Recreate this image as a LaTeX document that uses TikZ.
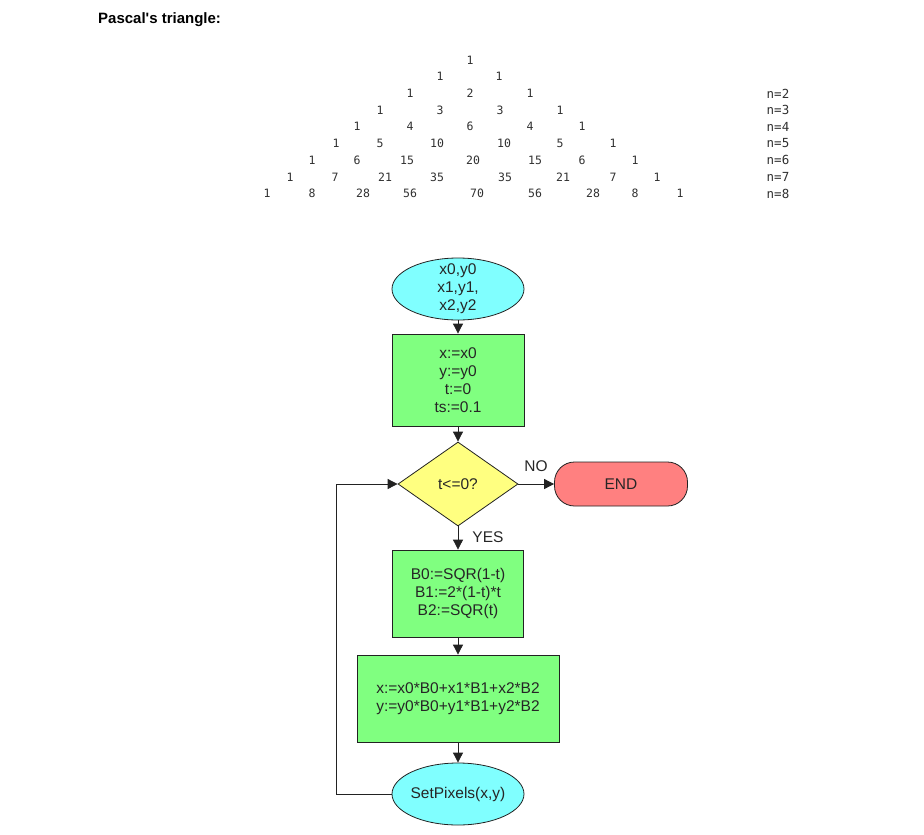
\documentclass[tikz,border=0pt]{standalone}
\usepackage{fontspec}
\setmainfont{Liberation Sans}
\setmonofont{DejaVu Sans Mono}
\newfontfamily\titlefont{Liberation Sans}[Ligatures=TeXOff]
\usetikzlibrary{shapes.geometric,arrows.meta}
\definecolor{numgray}{HTML}{303030}
\definecolor{cyanfill}{HTML}{80FFFF}
\definecolor{greenfill}{HTML}{80FF80}
\definecolor{yellowfill}{HTML}{FFFF80}
\definecolor{redfill}{HTML}{FF8080}
\definecolor{linec}{HTML}{222222}
\tikzset{
  num/.style={font=\ttfamily\fontsize{11.5}{14}\selectfont, text=numgray, inner sep=0},
  flowtext/.style={font=\fontsize{15.5}{18}\selectfont, text=black!85, align=center},
  ell/.style={flowtext, ellipse, draw=linec, line width=0.8pt, fill=cyanfill, inner sep=-4pt, minimum width=132pt, minimum height=62pt},
  procbox/.style={flowtext, rectangle, draw=linec, line width=0.8pt, fill=greenfill, inner sep=0},
  decision/.style={flowtext, diamond, draw=linec, line width=0.8pt, fill=yellowfill, inner sep=0, minimum width=120pt, minimum height=84pt},
  term/.style={flowtext, rectangle, rounded corners=20pt, draw=linec, line width=0.8pt, fill=redfill, minimum width=133pt, minimum height=44pt},
  conn/.style={draw=linec, line width=0.8pt, -{Triangle[length=10pt,width=10pt]}},
  lbl/.style={flowtext, inner sep=0}
}
\begin{document}
\begin{tikzpicture}[x=1pt,y=-1pt]
\path[use as bounding box] (0,0) rectangle (924,835);
\node[anchor=west, font=\titlefont\bfseries\fontsize{15}{16}\selectfont, inner sep=0] (title) at (98,20) {Pascal's triangle:};
% Pascal triangle
\foreach \x/\t [count=\i] in {470/1} \node[num] (r0c\i) at (\x,60) {\t};
\foreach \x/\t [count=\i] in {440/1,499/1} \node[num] (r1c\i) at (\x,76.7) {\t};
\foreach \x/\t [count=\i] in {410/1,470/2,530/1} \node[num] (r2c\i) at (\x,93.4) {\t};
\foreach \x/\t [count=\i] in {380/1,440/3,500/3,560/1} \node[num] (r3c\i) at (\x,110.1) {\t};
\foreach \x/\t [count=\i] in {357/1,410/4,470/6,530/4,582/1} \node[num] (r4c\i) at (\x,126.8) {\t};
\foreach \x/\t [count=\i] in {336/1,380/5,437/10,504/10,560/5,613/1} \node[num] (r5c\i) at (\x,143.5) {\t};
\foreach \x/\t [count=\i] in {312/1,357/6,407/15,473/20,535/15,582/6,635/1} \node[num] (r6c\i) at (\x,160.2) {\t};
\foreach \x/\t [count=\i] in {290/1,335/7,385/21,437/35,505/35,563/21,613/7,657/1} \node[num] (r7c\i) at (\x,176.9) {\t};
\foreach \x/\t [count=\i] in {267/1,312/8,363/28,410/56,477/70,535/56,593/28,635/8,680/1} \node[num] (r8c\i) at (\x,193.6) {\t};
\foreach \k in {2,...,8} \node[num, font=\ttfamily\fontsize{12.5}{14}\selectfont] (n\k) at (778,{60+16.7*\k}) {n=\k};
% Flowchart
\node[ell] (start) at (458,289) {x0,y0\\x1,y1,\\x2,y2};
\node[procbox, minimum width=132pt, minimum height=92pt] (init) at (458,380) {x:=x0\\y:=y0\\t:=0\\ts:=0.1};
\node[decision] (cond) at (458,484) {t<=0?};
\node[term] (end) at (621,484) {END};
\node[procbox, minimum width=131pt, minimum height=87pt] (bern) at (458,593.5) {B0:=SQR(1-t)\\B1:=2*(1-t)*t\\B2:=SQR(t)};
\node[procbox, minimum width=202pt, minimum height=87pt] (calc) at (458,698.5) {x:=x0*B0+x1*B1+x2*B2\\y:=y0*B0+y1*B1+y2*B2};
\node[ell] (pix) at (458,794) {SetPixels(x,y)};
\draw[conn] (start) -- (init);
\draw[conn] (init) -- (cond);
\draw[conn] (cond) -- (end);
\draw[conn] (cond) -- (bern);
\draw[conn] (bern) -- (calc);
\draw[conn] (calc) -- (pix);
\coordinate (lb) at (336,794);
\coordinate (lt) at (336,484);
\draw[conn] (pix.west) -- (lb) -- (lt) -- (cond.west);
\node[lbl] (no) at (536,466) {NO};
\node[lbl] (yes) at (488,537) {YES};
\end{tikzpicture}
\end{document}
